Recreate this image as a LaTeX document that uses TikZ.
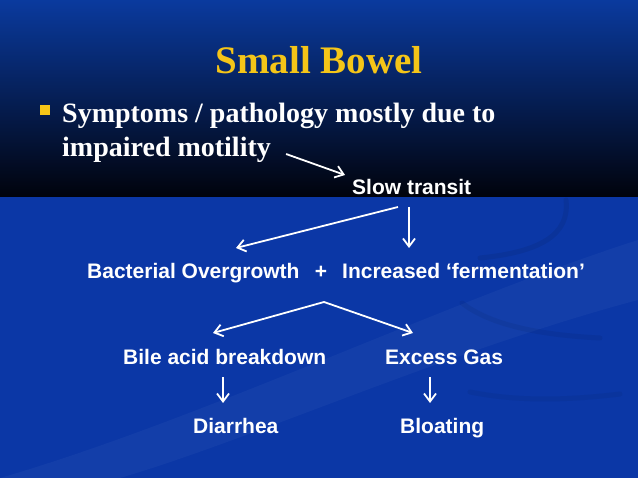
\documentclass[tikz,border=0pt]{standalone}
\usepackage{fontspec}
\setmainfont{Liberation Serif}
\setsansfont{Liberation Sans}
\usetikzlibrary{arrows.meta,calc}
\definecolor{topblue}{HTML}{0A3A9E}
\definecolor{midnavy}{HTML}{061C55}
\definecolor{botblack}{HTML}{01030C}
\definecolor{bgblue}{HTML}{0B37A6}
\definecolor{titleyellow}{HTML}{F5C518}
\tikzset{
  titletext/.style={inner sep=0pt, text=titleyellow, font=\fontsize{39}{47}\selectfont\bfseries},
  bodytext/.style={inner sep=0pt, text=white, font=\fontsize{28}{34}\selectfont\bfseries},
  flowtext/.style={inner sep=0pt, text=white, font=\fontsize{21}{25}\selectfont\sffamily\bfseries},
  barb/.tip={Straight Barb[length=8pt,width=12pt,line width=1.8pt]},
  arr/.style={draw=white, line width=1.8pt, line join=miter, -barb},
  arrboth/.style={draw=white, line width=1.8pt, line join=miter, barb-barb},
  swoosh/.style={draw=black, line width=5pt, line cap=round}
}
\begin{document}
\begin{tikzpicture}[x=1pt,y=-1pt]
\useasboundingbox (0,0) rectangle (638,478);
% background
\fill[bgblue] (0,0) rectangle (638,478);
\shade[top color=topblue, middle color=midnavy, bottom color=botblack] (0,0) rectangle (638,197);
\fill[white, opacity=0.035] (0,478) .. controls (200,420) and (450,300) .. (638,240) -- (638,300) .. controls (450,350) and (250,440) .. (120,478) -- cycle;
\draw[swoosh, opacity=0.07] (566,200) .. controls (570,235) and (540,252) .. (480,258);
\draw[swoosh, opacity=0.06] (462,303) .. controls (490,325) and (540,335) .. (600,338);
\draw[swoosh, opacity=0.05] (470,392) .. controls (520,402) and (570,400) .. (620,394);
% title and bullet
\node[titletext, anchor=base] (title) at (319,74) {Small Bowel};
\node[fill=titleyellow, minimum size=10.5pt, inner sep=0pt] (bullet) at (45,110) {};
\node[bodytext, anchor=base west] (l1) at (62,123) {Symptoms / pathology mostly due to};
\node[bodytext, anchor=base west] (l2) at (62,157) {impaired motility};
% flow
\node[flowtext, anchor=base west] (slow) at (352,195) {Slow transit};
\node[flowtext, anchor=base west] (bact) at (87,279) {Bacterial Overgrowth};
\node[flowtext, anchor=base] (plus) at (321,279) {+};
\node[flowtext, anchor=base west] (ferm) at (342,279) {Increased ‘fermentation’};
\node[flowtext, anchor=base west] (bile) at (123,365) {Bile acid breakdown};
\node[flowtext, anchor=base west] (gas) at (385,365) {Excess Gas};
\node[flowtext, anchor=base west] (diar) at (193,434) {Diarrhea};
\node[flowtext, anchor=base west] (bloat) at (400,434) {Bloating};
% connectors
\draw[arr] ($(l2.base east)+(15,-3)$) -- ($(slow.base west)+(-7,-20)$);
\draw[arr] ($(slow.base west)+(46,12)$) -- ($(bact.base west)+(149,-31)$);
\draw[arr] ($(slow.base west)+(57,12)$) -- ($(ferm.base west)+(67,-31)$);
\draw[arrboth] ($(bile.base west)+(90,-32)$) -- ($(plus.base)+(3,23)$) -- ($(gas.base west)+(28,-32)$);
\draw[arr] ($(bile.base west)+(100,12)$) -- ($(diar.base west)+(30,-31)$);
\draw[arr] ($(gas.base west)+(45,12)$) -- ($(bloat.base west)+(30,-31)$);
\end{tikzpicture}
\end{document}
